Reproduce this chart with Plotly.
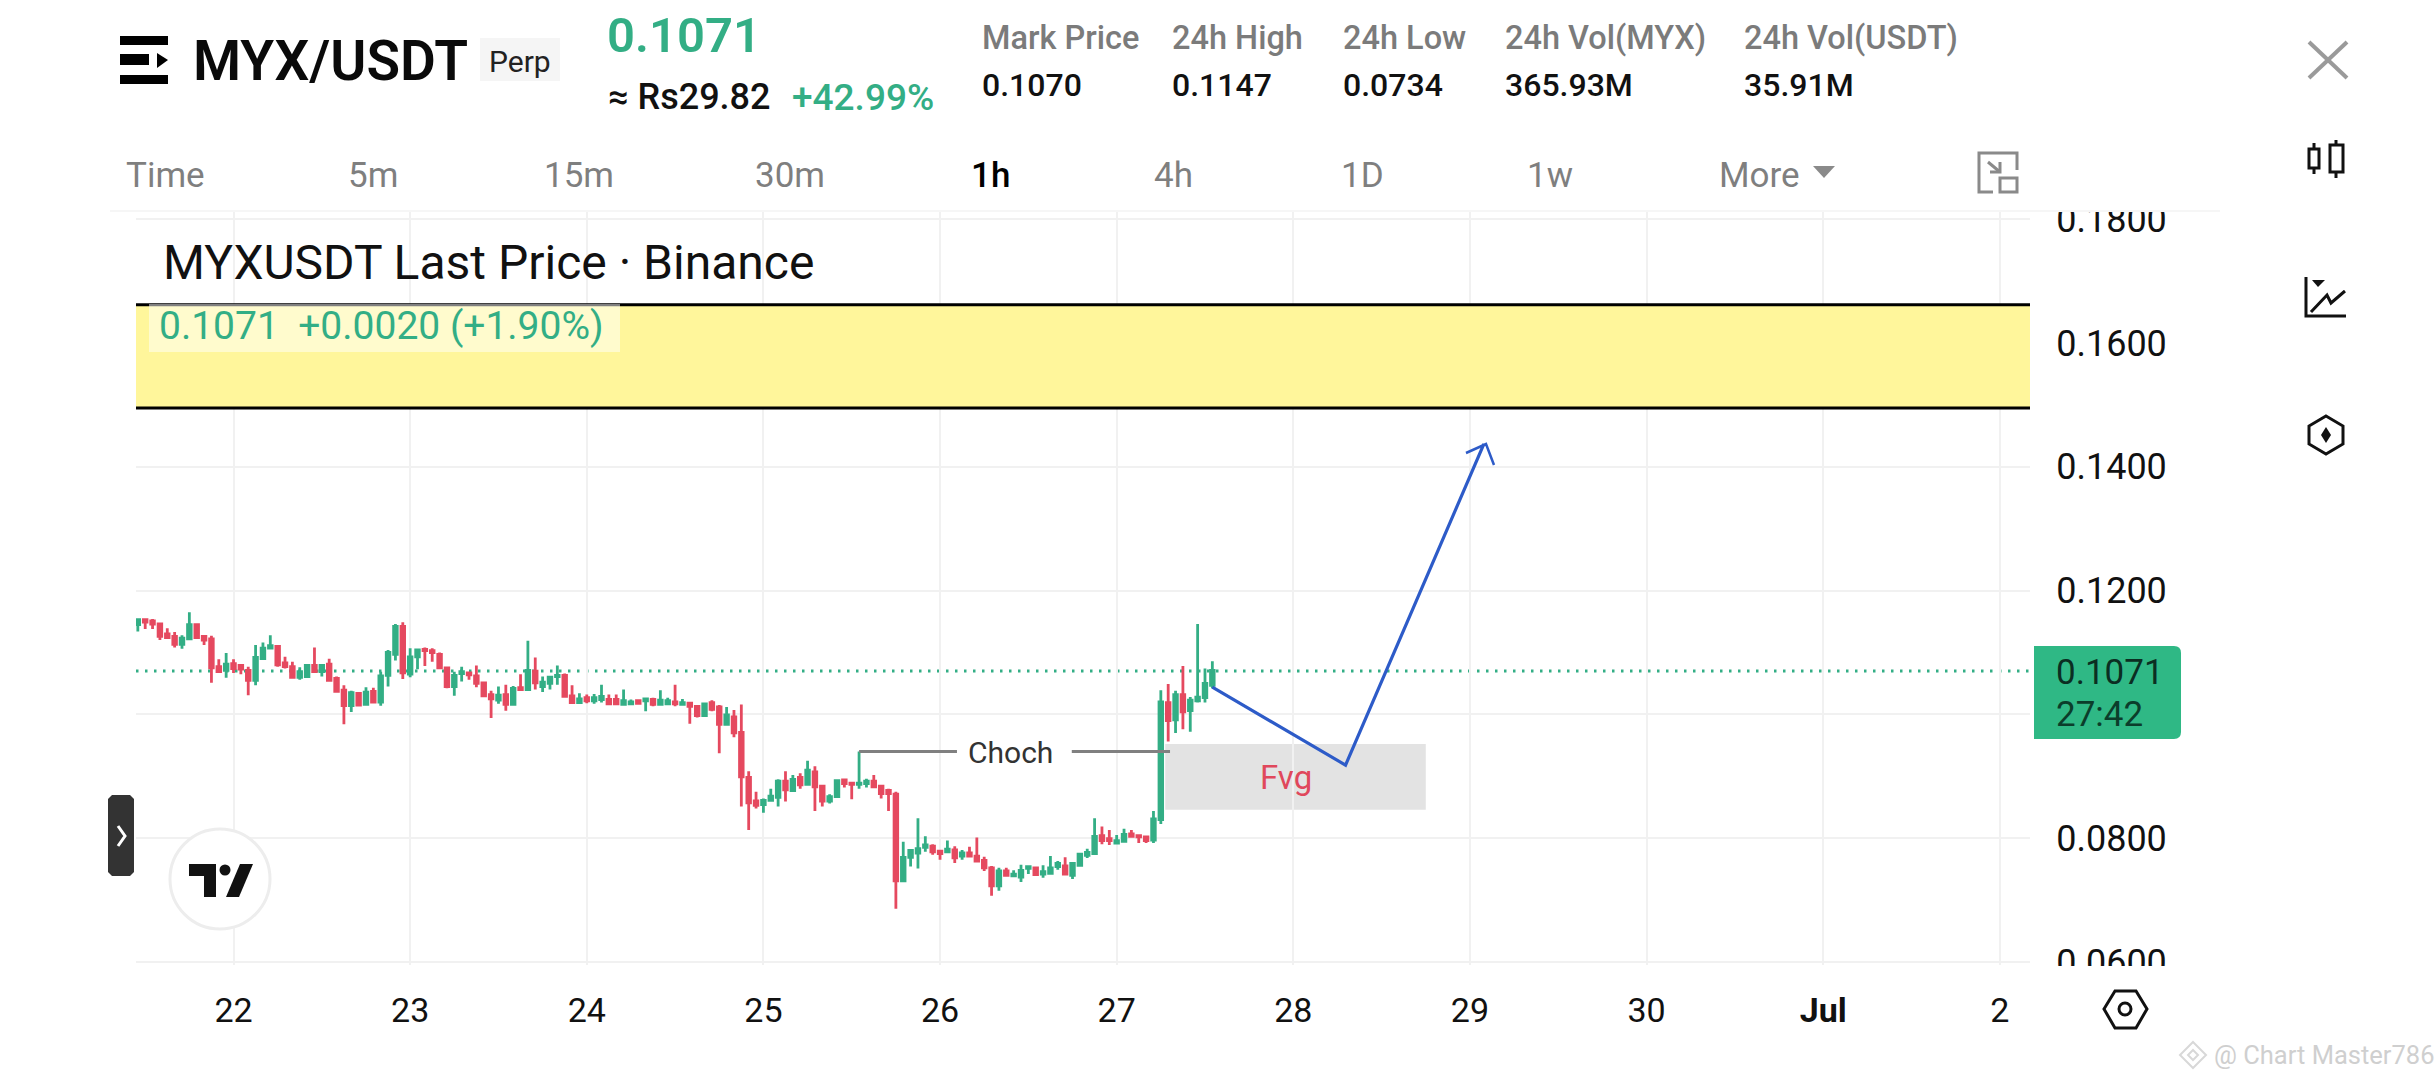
import plotly.graph_objects as go
import pandas as pd

# ---------- data ----------
START_TIME = "2025-06-21 11:00"
opens = [
 .1145,.1153,.1151,.1146,.1130,.1126,.1113,.1122,.1145,.1126,.1122,.1077,.1071,.1082,.1079,.1071,.1055,.1090,.1107,.1110,
 .1083,.1077,.1060,.1061,.1079,.1069,.1081,.1058,.1039,.1014,.1034,.1016,.1037,.1020,.1063,.1097,.1142,.1065,.1093,.1105,
 .1103,.1097,.1075,.1045,.1066,.1067,.1062,.1051,.1032,.1023,.1032,.1016,.1043,.1040,.1070,.1045,.1050,.1061,.1063,.1030,
 .1019,.1027,.1022,.1024,.1024,.1024,.1016,.1017,.1022,.1022,.1024,.1016,.1017,.1020,.1016,.1018,.1013,.0998,.1019,.1012,
 .0984,.0996,.0971,.0898,.0860,.0854,.0861,.0866,.0892,.0877,.0898,.0887,.0907,.0884,.0860,.0867,.0894,.0889,.0887,.0888,
 .0892,.0884,.0877,.0871,.0731,.0769,.0776,.0785,.0787,.0779,.0778,.0781,.0771,.0776,.0771,.0764,.0752,.0723,.0747,.0739,
 .0737,.0751,.0752,.0742,.0743,.0754,.0755,.0740,.0756,.0772,.0775,.0804,.0799,.0792,.0795,.0807,.0804,.0802,.0797,.0830,
 .1019,.0991,.1032,.1006,.1022,.1027,.1047]
highs = [
 .1154,.1155,.1154,.1147,.1139,.1133,.1128,.1165,.1146,.1128,.1127,.1089,.1099,.1089,.1081,.1077,.1112,.1116,.1128,.1112,
 .1093,.1085,.1076,.1081,.1108,.1081,.1090,.1061,.1047,.1038,.1035,.1044,.1043,.1069,.1104,.1146,.1149,.1107,.1105,.1108,
 .1107,.1100,.1076,.1069,.1077,.1069,.1079,.1053,.1038,.1045,.1048,.1046,.1065,.1119,.1092,.1061,.1062,.1079,.1066,.1047,
 .1034,.1032,.1033,.1048,.1032,.1032,.1040,.1024,.1024,.1026,.1027,.1039,.1027,.1048,.1025,.1020,.1015,.1019,.1023,.1015,
 .1012,.1007,.1016,.0908,.0875,.0864,.0880,.0895,.0908,.0902,.0905,.0925,.0916,.0886,.0871,.0894,.0896,.0891,.0940,.0896,
 .0902,.0886,.0880,.0875,.0794,.0782,.0832,.0803,.0790,.0781,.0796,.0787,.0781,.0786,.0801,.0770,.0755,.0752,.0752,.0748,
 .0757,.0756,.0754,.0756,.0771,.0763,.0769,.0761,.0775,.0783,.0832,.0819,.0813,.0805,.0815,.0813,.0805,.0804,.0844,.1039,
 .1049,.1038,.1078,.1028,.1146,.1074,.1086]
lows = [
 .1134,.1138,.1138,.1120,.1123,.1108,.1106,.1122,.1123,.1112,.1051,.1068,.1059,.1067,.1065,.1031,.1047,.1090,.1106,.1077,
 .1074,.1059,.1056,.1061,.1069,.1061,.1054,.1036,.0984,.1004,.1014,.1016,.1018,.1014,.1045,.1087,.1057,.1060,.1073,.1078,
 .1085,.1074,.1042,.1030,.1053,.1056,.1044,.1029,.0994,.1017,.1006,.1015,.1040,.1040,.1040,.1036,.1040,.1048,.1027,.1018,
 .1018,.1018,.1017,.1019,.1016,.1016,.1015,.1015,.1016,.1005,.1013,.1015,.1015,.1013,.1015,.0985,.0995,.0997,.1005,.0937,
 .0983,.0963,.0851,.0813,.0848,.0841,.0859,.0851,.0859,.0875,.0880,.0887,.0844,.0851,.0856,.0867,.0882,.0863,.0880,.0882,
 .0882,.0864,.0844,.0686,.0731,.0754,.0751,.0778,.0773,.0765,.0778,.0760,.0765,.0769,.0762,.0747,.0707,.0715,.0739,.0737,
 .0729,.0742,.0740,.0736,.0742,.0749,.0740,.0734,.0755,.0768,.0775,.0790,.0789,.0792,.0793,.0802,.0792,.0792,.0792,.0823,
 .0956,.0970,.0976,.0972,.1019,.1019,.1042]
closes = [
 .1153,.1149,.1146,.1126,.1124,.1113,.1123,.1145,.1124,.1120,.1075,.1069,.1081,.1074,.1073,.1055,.1092,.1107,.1111,.1080,
 .1077,.1060,.1069,.1079,.1069,.1079,.1055,.1037,.1014,.1035,.1015,.1036,.1020,.1062,.1100,.1142,.1067,.1093,.1104,.1103,
 .1100,.1075,.1045,.1063,.1069,.1064,.1050,.1030,.1025,.1031,.1016,.1042,.1040,.1071,.1051,.1052,.1060,.1063,.1029,.1019,
 .1025,.1022,.1027,.1029,.1017,.1017,.1022,.1020,.1018,.1025,.1016,.1023,.1022,.1017,.1019,.1013,.0998,.1017,.1008,.0984,
 .0999,.0970,.0899,.0857,.0853,.0861,.0868,.0892,.0878,.0895,.0886,.0910,.0883,.0860,.0867,.0893,.0888,.0887,.0889,.0892,
 .0883,.0872,.0872,.0731,.0769,.0780,.0783,.0789,.0778,.0775,.0782,.0768,.0776,.0771,.0763,.0752,.0723,.0747,.0740,.0742,
 .0748,.0754,.0741,.0746,.0752,.0759,.0742,.0759,.0774,.0777,.0803,.0796,.0796,.0796,.0806,.0803,.0802,.0796,.0831,.1020,
 .0990,.1032,.1004,.1023,.1028,.1050,.1071]
assert len(opens) == len(highs) == len(lows) == len(closes) == 147

price_ticks = [0.06, 0.08, 0.10, 0.12, 0.14, 0.16, 0.18]
price_labels = ["0.0600", "0.0800", "", "0.1200", "0.1400", "0.1600", "0.1800"]
date_ticks = ["2025-06-22","2025-06-23","2025-06-24","2025-06-25","2025-06-26","2025-06-27",
              "2025-06-28","2025-06-29","2025-06-30","2025-07-01","2025-07-02"]
date_labels = ["22","23","24","25","26","27","28","29","30","<b>Jul</b>","2"]

last_price = 0.1070
zone_top, zone_bottom = 0.1662, 0.1495
fvg_x = ["2025-06-27 06:36", "2025-06-28 18:00"]
fvg_y = [0.0846, 0.0952]
choch_level = 0.0940
choch_x = ["2025-06-25 13:00", "2025-06-26 02:18", None, "2025-06-26 17:54", "2025-06-27 07:15"]
path_x = ["2025-06-27 13:00", "2025-06-28 07:06", "2025-06-29 01:54"]
path_y = [0.1044, 0.0918, 0.1437]

tabs = ["Time", "5m", "15m", "30m", "1h", "4h", "1D", "1w"]
tab_centers = [165, 373, 579, 790, 990, 1173, 1362, 1550]
stats = [("Mark Price", "0.1070", 981), ("24h High", "0.1147", 1171), ("24h Low", "0.0734", 1342),
         ("24h Vol(MYX)", "365.93M", 1504), ("24h Vol(USDT)", "35.91M", 1743)]

# ---------- frame geometry (window pixels) ----------
W, H = 2436, 1080
L, R, T, B = 136, 2030, 210, 965
GREEN, RED = "#33AE85", "#E5495F"
FONT = "Roboto"

def xp(x): return (x - L) / (R - L)
def yp(y): return (B - y) / (B - T)

def poly(points, close=True):
    s = "M" + " L".join(f"{xp(x):.5f},{yp(y):.5f}" for x, y in points)
    return s + (" Z" if close else "")

shapes, annos = [], []

def txt(x, y, text, size, color="#111111", anchor="left", weight=None, family=FONT):
    annos.append(dict(xref="paper", yref="paper", x=xp(x), y=yp(y), text=text, showarrow=False,
                      xanchor=anchor, yanchor="middle", borderpad=0,
                      font=dict(family=family, size=size, color=color, weight=weight)))

def pshape(points, fill=None, line=None, width=0, close=True):
    shapes.append(dict(type="path", xref="paper", yref="paper", path=poly(points, close), layer="above",
                       fillcolor=fill if fill else "rgba(0,0,0,0)",
                       line=dict(color=line if line else "rgba(0,0,0,0)", width=width)))

def prect(x0, y0, x1, y1, fill, line=None, width=0):
    shapes.append(dict(type="rect", xref="paper", yref="paper", x0=xp(x0), x1=xp(x1), y0=yp(y0), y1=yp(y1),
                       fillcolor=fill, layer="above",
                       line=dict(color=line if line else "rgba(0,0,0,0)", width=width)))

def pcircle(cx, cy, r, fill, line=None, width=0):
    shapes.append(dict(type="circle", xref="paper", yref="paper", x0=xp(cx-r), x1=xp(cx+r),
                       y0=yp(cy+r), y1=yp(cy-r), fillcolor=fill, layer="above",
                       line=dict(color=line if line else "rgba(0,0,0,0)", width=width)))

# ---------- chart shapes ----------
shapes.append(dict(type="line", xref="paper", yref="y", x0=0, x1=1, y0=last_price, y1=last_price, layer="below",
                   line=dict(color=GREEN, width=3, dash="2.5px,6.5px")))
shapes.append(dict(type="rect", xref="x", yref="y", x0=fvg_x[0], x1=fvg_x[1], y0=fvg_y[0], y1=fvg_y[1],
                   fillcolor="#E3E3E3", line=dict(width=0), layer="below"))
shapes.append(dict(type="rect", xref="paper", yref="y", x0=0, x1=1, y0=zone_bottom, y1=zone_top,
                   fillcolor="#FFF698", opacity=0.97, line=dict(width=0), layer="above"))
for lvl in (zone_top, zone_bottom):
    shapes.append(dict(type="line", xref="paper", yref="y", x0=0, x1=1, y0=lvl, y1=lvl, layer="above",
                       line=dict(color="#000000", width=3)))
prect(149, 304, 620, 352, "rgba(255,255,255,0.5)")

# clipped ends of the price scale
prect(2036, 150, 2250, 210, "#FFFFFF")
prect(2036, 966, 2250, 990, "#FFFFFF")
shapes.append(dict(type="line", xref="paper", yref="paper", x0=xp(110), x1=xp(2220), y0=yp(211), y1=yp(211),
                   layer="above", line=dict(color="#F6F6F6", width=2)))

# blue arrow head
pshape([(1466, 453), (1486, 444), (1494, 465)], line="#2D5BC8", width=2.5, close=False)

# price tag: square on the left, rounded on the right
tx0, tx1, ty0, ty1, tr = 2034, 2181, 646, 739, 7
shapes.append(dict(type="path", xref="paper", yref="paper", layer="above", fillcolor="#2FB885", line=dict(width=0),
    path=(f"M{xp(tx0):.5f},{yp(ty0):.5f} L{xp(tx1-tr):.5f},{yp(ty0):.5f} "
          f"Q{xp(tx1):.5f},{yp(ty0):.5f} {xp(tx1):.5f},{yp(ty0+tr):.5f} "
          f"L{xp(tx1):.5f},{yp(ty1-tr):.5f} Q{xp(tx1):.5f},{yp(ty1):.5f} {xp(tx1-tr):.5f},{yp(ty1):.5f} "
          f"L{xp(tx0):.5f},{yp(ty1):.5f} Z")))
txt(2055, 672, "0.1071", 35, "#0B2E22")
txt(2055, 714, "27:42", 35, "#0B3D2B")

# left pill + TradingView badge
pshape([(112, 795), (130, 795), (134, 799), (134, 872), (130, 876), (112, 876), (108, 872), (108, 799)], fill="#333333")
pshape([(118, 826), (125, 836), (118, 846)], line="#FFFFFF", width=3, close=False)
pcircle(220, 879, 50, "#FFFFFF", "#EDEDED", 3)
pshape([(189, 864), (216, 864), (216, 897), (204, 897), (204, 876), (189, 876)], fill="#111111")
pshape([(240, 864), (253, 864), (239, 897), (226, 897)], fill="#111111")
pcircle(225, 870, 5.5, "#111111")

# ---------- header ----------
prect(120, 36, 168, 45, "#000000")
prect(120, 75, 168, 84, "#000000")
prect(120, 54, 149, 65, "#000000")
pshape([(157, 53), (168, 60), (157, 68)], fill="#000000")
txt(192, 61, "MYX/USDT", 55, "#0A0A0A", weight=600)
prect(480, 38, 560, 81, "#F5F5F5")
txt(520, 62, "Perp", 30, "#222222", anchor="center")
txt(606, 36, "0.1071", 49, GREEN, weight=600)
txt(607, 97, "≈ Rs29.82", 36, "#111111", weight=500)
txt(791, 97, "+42.99%", 37, GREEN, weight=500)
for label, value, x in stats:
    txt(x, 38, label, 32.5, "#7B7B7B", weight=500)
    txt(x, 85, value, 32, "#111111", weight=500)
for tab, c in zip(tabs, tab_centers):
    txt(c, 175, tab, 35, "#000000" if tab == "1h" else "#7F7F7F", anchor="center",
        weight=500 if tab == "1h" else None)
txt(1718, 175, "More", 35, "#7F7F7F")
pshape([(1813, 166), (1835, 166), (1824, 178)], fill="#8A8A8A")
pshape([(1993, 192), (1979, 192), (1979, 153), (2017, 153), (2017, 170)], line="#8A8A8A", width=3, close=False)
prect(2000, 178, 2017, 192, "rgba(0,0,0,0)", "#8A8A8A", 3)
pshape([(1988, 162), (2000, 172)], line="#8A8A8A", width=3, close=False)
pshape([(1990, 172), (2000, 172), (2000, 162)], line="#8A8A8A", width=3, close=False)

txt(162, 262, "MYXUSDT Last Price · Binance", 48, "#111111")
txt(158, 326, "0.1071\u00a0\u00a0+0.0020 (+1.90%)", 39, GREEN)

# ---------- chart labels ----------
txt(1010, 752, "Choch", 30, "#333333", anchor="center")
txt(1286, 777, "Fvg", 33, "#E0485C", anchor="center")

# ---------- right rail icons ----------
pshape([(2309, 42), (2347, 78)], line="#9A9A9A", width=4, close=False)
pshape([(2347, 42), (2309, 78)], line="#9A9A9A", width=4, close=False)
pshape([(2314, 143), (2314, 174)], line="#111111", width=3, close=False)
prect(2309, 149, 2319, 168, "#FFFFFF", "#111111", 3)
pshape([(2336, 140), (2336, 178)], line="#111111", width=3, close=False)
prect(2330, 145, 2343, 172, "#FFFFFF", "#111111", 3)
pshape([(2306, 277), (2306, 316), (2346, 316)], line="#111111", width=3, close=False)
pshape([(2311, 312), (2327, 295), (2331, 303), (2345, 291)], line="#111111", width=3, close=False)
pshape([(2312, 280), (2325, 280), (2318, 287)], fill="#111111")
pshape([(2326, 416), (2343, 426), (2343, 444), (2326, 454), (2309, 444), (2309, 426)], line="#111111", width=3)
pshape([(2326, 427), (2331, 435), (2326, 443), (2321, 435)], fill="#111111")
pshape([(2104, 1009), (2115, 991), (2136, 991), (2147, 1009), (2136, 1028), (2115, 1028)], line="#111111", width=3)
pcircle(2125, 1009, 6, "#FFFFFF", "#111111", 3)

# ---------- watermark ----------
pshape([(2193, 1042), (2206, 1055), (2193, 1068), (2180, 1055)], line="#D8D8D8", width=2)
pshape([(2193, 1050), (2198, 1055), (2193, 1060), (2188, 1055)], line="#D8D8D8", width=2)
txt(2213, 1055, "@ Chart Master786", 25.5, "#CFCFCF")

# ---------- traces ----------
times = pd.date_range(START_TIME, periods=len(opens), freq="h")
fig = go.Figure()
fig.add_trace(go.Candlestick(
    x=times, open=opens, high=highs, low=lows, close=closes, whiskerwidth=0,
    increasing=dict(line=dict(color=GREEN, width=2.8), fillcolor=GREEN),
    decreasing=dict(line=dict(color=RED, width=2.8), fillcolor=RED),
    showlegend=False, hoverinfo="skip"))
fig.add_trace(go.Scatter(x=choch_x, y=[choch_level if v else None for v in choch_x], mode="lines",
                         line=dict(color="#808080", width=3), showlegend=False, hoverinfo="skip"))
fig.add_trace(go.Scatter(x=path_x, y=path_y, mode="lines",
                         line=dict(color="#2D5BC8", width=3.2), showlegend=False, hoverinfo="skip"))

fig.update_layout(
    width=W, height=H, margin=dict(l=L, r=W - R, t=T, b=H - B),
    paper_bgcolor="#FFFFFF", plot_bgcolor="#FFFFFF", showlegend=False,
    font=dict(family=FONT, color="#111111"),
    shapes=shapes, annotations=annos,
    xaxis=dict(type="date", range=["2025-06-21 10:45", "2025-07-02 04:06"], rangeslider=dict(visible=False),
               tickmode="array", tickvals=date_ticks, ticktext=date_labels, tickangle=0,
               tickfont=dict(family=FONT, size=34, color="#111111"),
               showgrid=True, gridcolor="#F1F1F1", gridwidth=2, zeroline=False, showline=False,
               ticks="outside", ticklen=15, tickcolor="rgba(0,0,0,0)"),
    yaxis=dict(side="right", range=[0.0595, 0.1815], tickmode="array", tickvals=price_ticks, ticktext=price_labels,
               tickfont=dict(family=FONT, size=36, color="#111111"),
               showgrid=True, gridcolor="#F1F1F1", gridwidth=2, zeroline=False, showline=False,
               ticks="outside", ticklen=18, tickcolor="rgba(0,0,0,0)"),
)
fig.write_html("out.html", config=dict(displayModeBar=False),
               post_script="document.body.style.margin='0';document.body.style.overflow='hidden';")
